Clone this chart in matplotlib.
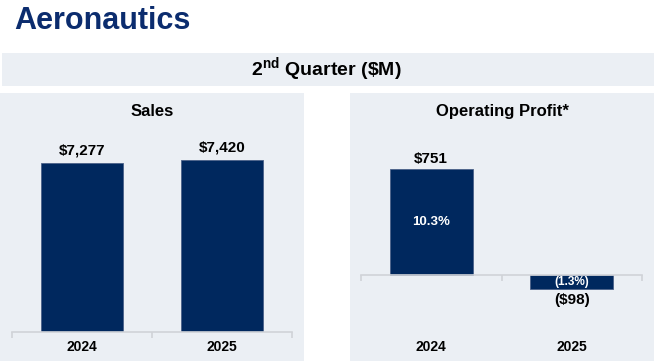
import numpy as np
import matplotlib.pyplot as plt
from matplotlib.patches import Rectangle

plt.rcParams['font.family'] = ['Liberation Sans', 'DejaVu Sans']
plt.rcParams['mathtext.fontset'] = 'custom'
plt.rcParams['mathtext.rm'] = 'Liberation Sans'
plt.rcParams['mathtext.bf'] = 'Liberation Sans:bold'

# data
years = ['2024', '2025']
sales = [7277, 7420]
sales_labels = ['$7,277', '$7,420']
profit = [751, -98]
profit_labels = ['$751', '($98)']
margin_labels = ['10.3%', '(1.3%)']

W, H = 654, 361
navy = '#00285E'
title_col = '#0B2C6E'
panel_bg = '#EBEFF4'
line_col = '#D0D3D8'

fig = plt.figure(figsize=(W / 100, H / 100), dpi=100)

def px_rect(x0, y0, x1, y1):
    # pixel box (top-left origin) -> figure fraction rect
    return [x0 / W, 1 - y1 / H, (x1 - x0) / W, (y1 - y0) / H]

# backgrounds
for (x0, y0, x1, y1) in [(2, 53, 654, 86), (0, 93, 304, 361), (350, 93, 654, 361)]:
    r = px_rect(x0, y0, x1, y1)
    fig.patches.append(Rectangle((r[0], r[1]), r[2], r[3], transform=fig.transFigure,
                                 facecolor=panel_bg, edgecolor='none', zorder=-5))

fig.text(14 / W, 1 - 21 / H, 'Aeronautics', fontsize=22, fontweight='bold',
         color=title_col, ha='left', va='center')
fig.text(326 / W, 1 - 70 / H, r'2$^{\mathbf{nd}}$ Quarter (\$M)', fontsize=14,
         fontweight='bold', ha='center', va='center')
fig.text(152 / W, 1 - 112 / H, 'Sales', fontsize=12, fontweight='bold', ha='center', va='center')
fig.text(502 / W, 1 - 112 / H, 'Operating Profit*', fontsize=12, fontweight='bold',
         ha='center', va='center')

x = np.arange(len(years))

def style_axis(ax):
    ax.set_facecolor('none')
    for s in ['top', 'left', 'right']:
        ax.spines[s].set_visible(False)
    ax.spines['bottom'].set_color(line_col)
    ax.spines['bottom'].set_linewidth(1.2)
    ax.set_xlim(-0.5, 1.5)
    ax.set_yticks([])
    ax.set_xticks(x)
    ax.set_xticklabels([])
    ax.tick_params(axis='x', which='major', length=0)
    ax.set_xticks([-0.5, 0.5, 1.5], minor=True)
    ax.tick_params(axis='x', which='minor', length=4, width=1.2, color=line_col, direction='out')
    for i, yr in enumerate(years):
        ax.annotate(yr, xy=(i, 0), xycoords=('data', 'axes fraction'), xytext=(0, -11),
                    textcoords='offset points', ha='center', va='center',
                    fontsize=10, fontweight='bold')

# Sales
ax1 = fig.add_axes(px_rect(12, 130, 292, 332))
style_axis(ax1)
ax1.bar(x, sales, width=0.59, color=navy, edgecolor='#4A6088', linewidth=0.6)
ax1.set_ylim(0, 8700)
for i, v in enumerate(sales):
    ax1.annotate(sales_labels[i], xy=(i, v), xytext=(0, 4), textcoords='offset points',
                 ha='center', va='bottom', fontsize=11, fontweight='bold')

# Operating profit
ax2 = fig.add_axes(px_rect(361, 130, 642, 332))
style_axis(ax2)
ax2.spines['bottom'].set_position(('data', 0))
ax2.bar(x, profit, width=0.59, color=navy, edgecolor='#4A6088', linewidth=0.6)
ax2.set_ylim(-404, 1027)
ax2.annotate(profit_labels[0], xy=(0, profit[0]), xytext=(0, 2), textcoords='offset points',
             ha='center', va='bottom', fontsize=11, fontweight='bold')
ax2.text(0, profit[0] / 2, margin_labels[0], color='white', ha='center', va='center',
         fontsize=9.5, fontweight='bold')
ax2.text(1, profit[1] / 2, margin_labels[1], color='white', ha='center', va='center',
         fontsize=8.5, fontweight='bold')
ax2.annotate(profit_labels[1], xy=(1, profit[1]), xytext=(0, -3), textcoords='offset points',
             ha='center', va='top', fontsize=11, fontweight='bold')

fig.savefig('out.png', dpi=100)
